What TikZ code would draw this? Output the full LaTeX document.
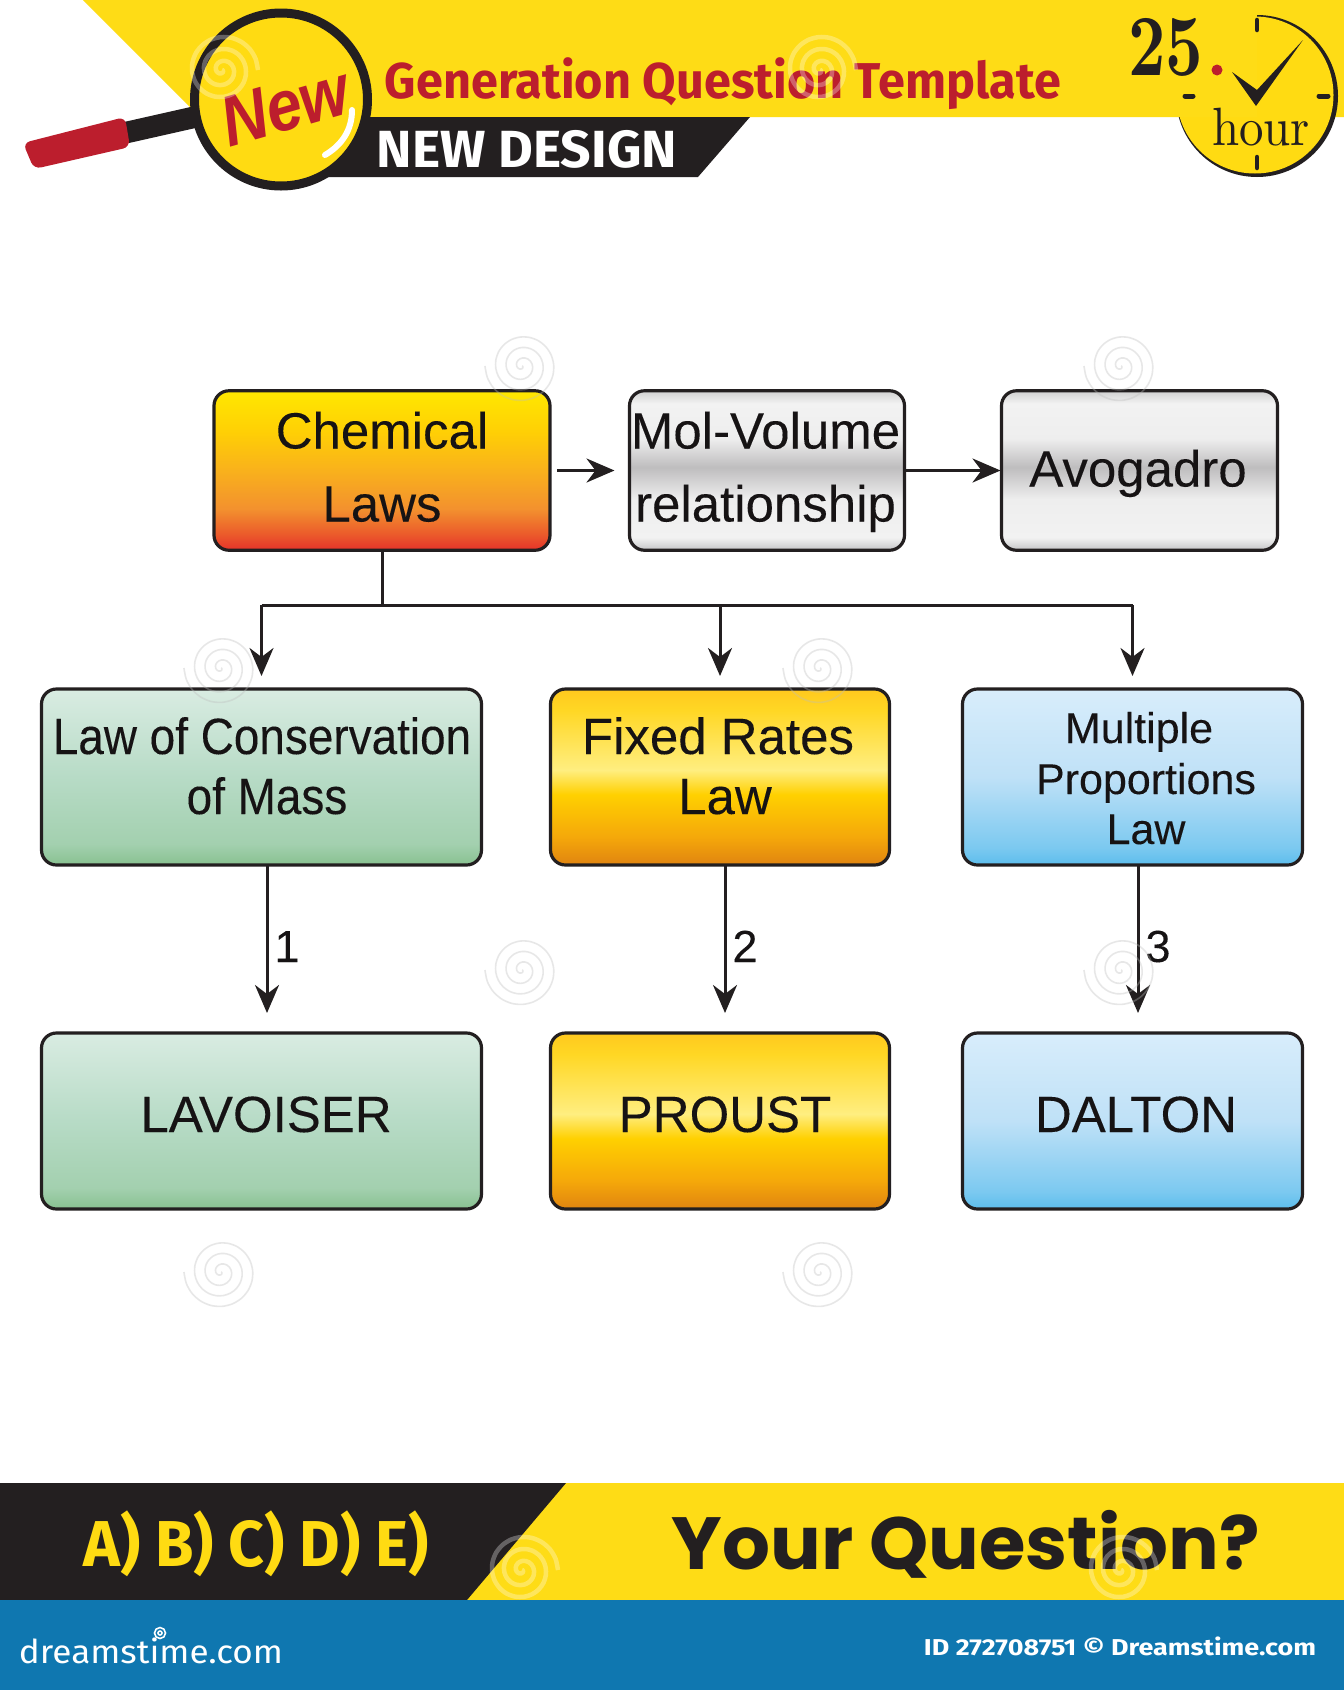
\documentclass[tikz,border=0pt]{standalone}
\usepackage{fontspec}
\usepackage{graphicx}
\usetikzlibrary{arrows.meta}
\newfontfamily\arial[FakeBold=0.15]{Liberation Sans}
\newfontfamily\arialplain{Liberation Sans}
\newfontfamily\arialnar[FakeStretch=0.9,FakeBold=0.15]{Liberation Sans}
\newfontfamily\fira{Fira Sans}
\newfontfamily\pop{Poppins}
\definecolor{bandy}{HTML}{FEDC16}
\definecolor{lensy}{HTML}{FFDB12}
\definecolor{inkb}{HTML}{231F20}
\definecolor{txtb}{HTML}{161314}
\definecolor{redh}{HTML}{BC1E2D}
\definecolor{bluef}{HTML}{0F77B0}
\definecolor{wm}{HTML}{BDBDBD}
\definecolor{ca}{HTML}{E5322A}\definecolor{cb}{HTML}{EB5A2B}\definecolor{cc}{HTML}{F3912E}\definecolor{cd}{HTML}{F9B11C}\definecolor{ce}{HTML}{FFCF05}\definecolor{cf}{HTML}{FFE800}
\definecolor{ga}{HTML}{C4C4C6}\definecolor{gb}{HTML}{F2F2F2}\definecolor{gc}{HTML}{EEEEEE}\definecolor{gd}{HTML}{BEBDBE}\definecolor{ge}{HTML}{EEEEEE}\definecolor{gf}{HTML}{F2F2F2}\definecolor{gg}{HTML}{D0D0D0}
\definecolor{va}{HTML}{88C190}\definecolor{vb}{HTML}{A3D0AF}\definecolor{vc}{HTML}{B7DBC6}\definecolor{vd}{HTML}{D9ECE2}
\definecolor{oa}{HTML}{E08410}\definecolor{ob}{HTML}{F5A80A}\definecolor{oc}{HTML}{FFD000}\definecolor{od}{HTML}{FFEE80}\definecolor{oe}{HTML}{FFD724}\definecolor{of}{HTML}{FFC81E}
\definecolor{ba}{HTML}{5CBDEC}\definecolor{bb}{HTML}{7CC9F0}\definecolor{bc}{HTML}{BFE1F7}\definecolor{bd}{HTML}{D8EDFB}
% shadings: the visible part of the path is 25bp (bottom) to 75bp (top)
\pgfdeclareverticalshading{chemgrad}{100bp}{color(0bp)=(ca);color(25bp)=(ca);color(30bp)=(cb);color(38bp)=(cc);color(50bp)=(cd);color(62bp)=(ce);color(75bp)=(cf);color(100bp)=(cf)}
\pgfdeclareverticalshading{greygrad}{100bp}{color(0bp)=(ga);color(25bp)=(ga);color(29bp)=(gb);color(41bp)=(gc);color(51bp)=(gd);color(60bp)=(ge);color(71bp)=(gf);color(75bp)=(gg);color(100bp)=(gg)}
\pgfdeclareverticalshading{greengrad}{100bp}{color(0bp)=(va);color(25bp)=(va);color(31bp)=(vb);color(50bp)=(vc);color(75bp)=(vd);color(100bp)=(vd)}
\pgfdeclareverticalshading{goldgrad}{100bp}{color(0bp)=(oa);color(25bp)=(oa);color(33bp)=(ob);color(45bp)=(oc);color(52bp)=(od);color(69bp)=(oe);color(75bp)=(of);color(100bp)=(of)}
\pgfdeclareverticalshading{bluegrad}{100bp}{color(0bp)=(ba);color(25bp)=(ba);color(30bp)=(bb);color(50bp)=(bc);color(75bp)=(bd);color(100bp)=(bd)}
% one line of a box text: x offset from the box centre, baseline height above it
\newcommand{\tl}[3]{\makebox[0pt][c]{\hspace*{\dimexpr #1pt*2\relax}\raisebox{#2pt}[0pt][0pt]{#3}}}
\newcommand{\fit}[3]{\resizebox*{#1pt}{#2pt}{#3}}
\tikzset{
  x=1pt,y=-1pt,
  flowbox/.style={draw=inkb,line width=3.2pt,rounded corners=15pt,shade,outer sep=0pt,inner sep=0pt,text=txtb,font=\arial\fontsize{51}{60}\selectfont},
  topbox/.style={flowbox,minimum width=#1,minimum height=159.5pt},
  lowbox/.style={flowbox,minimum width=#1,minimum height=176pt},
  conn/.style={draw=inkb,line width=3pt},
  arr/.style={conn,-{Stealth[length=28pt,width=24pt,inset=9pt]}},
  num/.style={anchor=base,text=txtb,inner sep=0pt,font=\arial\fontsize{45}{50}\selectfont},
  fitted/.style={inner sep=0pt,outer sep=0pt},
  swirlgrey/.style={draw=wm,line width=1.6pt,opacity=.35},
  swirlwhite/.style={draw=white,line width=4.5pt,opacity=.3}
}
\begin{document}
\begin{tikzpicture}
\useasboundingbox (0,0) rectangle (1344,1690);
\fill[white] (0,0) rectangle (1344,1690);
% top band
\fill[bandy] (83,0) -- (1344,0) -- (1344,117) -- (200,117) -- cycle;
\fill[inkb] (330,117) -- (750,117) -- (698,177) -- (326,177) -- cycle;
% magnifier
\fill[inkb] (124,122) -- (195,106) -- (200,127) -- (129,143) -- cycle;
\fill[redh,rounded corners=7pt] (23,143) -- (125,117) -- (130,147) -- (34,169) -- cycle;
\filldraw[fill=lensy,draw=inkb,line width=9pt] (281,99.5) circle[radius=86.5];
\draw[white,line width=6pt,line cap=round] (352,110) .. controls (352,130) and (342,145) .. (325,155);
\node[fitted,rotate=16,text=redh] (newword) at (285,106) {\fit{130}{50}{\arialplain\bfseries\itshape New}};
\node[fitted,text=redh] (gentitle) at (723,84) {\fit{676}{52}{\fira\bfseries Generation Question Template}};
\node[fitted,text=white] (newdesign) at (527,149) {\fit{300}{38}{\fira\bfseries NEW DESIGN}};
% clock
\begin{scope}
\clip (1257,0) rectangle (1344,190) (1170,117) rectangle (1257,190);
\fill[inkb] (1257,96) circle[radius=81];
\fill[lensy] (1255,95) circle[radius=78.5];
\end{scope}
\draw[inkb,line width=4.5pt,line cap=round] (1257,20) -- (1257,30) (1257,157) -- (1257,168);
\draw[inkb,line width=5pt,line cap=round] (1185,96) -- (1193,96) (1319,96) -- (1328,96);
\fill[inkb] (1232,72) -- (1257,90) -- (1303,40) -- (1256,106) -- cycle;
\node[fitted,text=inkb,anchor=base west] (clocknum) at (1128,75) {\fit{75}{58}{\bfseries 25}};
\node[fitted,fill=redh,circle,minimum size=11pt] (clockdot) at (1217,70) {};
\node[fitted,text=inkb] (clockhour) at (1261,127) {\fit{98}{38}{hour}};
% flow boxes
\node[topbox=336pt,shading=chemgrad] (chem) at (382,470.5) {\tl{0}{22}{Chemical}\tl{0}{-51}{Laws}};
\node[topbox=275pt,shading=greygrad] (mol) at (767,470.5) {\tl{-1.5}{22}{Mol-Volume}\tl{-1.5}{-51}{relationship}};
\node[topbox=276pt,shading=greygrad] (avo) at (1139.5,470.5) {\tl{-1.5}{-16}{Avogadro}};
\node[lowbox=440pt,shading=greengrad] (law) at (261.5,777) {\tl{0.5}{23}{\arialnar Law of Conservation}\tl{5.5}{-37}{\arialnar of Mass}};
\node[lowbox=339pt,shading=goldgrad] (fixed) at (720,777) {\tl{-2}{23}{Fixed Rates}\tl{5}{-37}{Law}};
\node[lowbox=340pt,shading=bluegrad,font=\arial\fontsize{43}{50}\selectfont] (multi) at (1132.5,777) {\tl{6.5}{34}{Multiple}\tl{13.5}{-17}{Proportions}\tl{13.5}{-67}{Law}};
\node[lowbox=440pt,shading=greengrad] (lav) at (261.5,1121) {\tl{4.5}{-11}{LAVOISER}};
\node[lowbox=339pt,shading=goldgrad] (proust) at (720,1121) {\tl{5}{-11}{PROUST}};
\node[lowbox=340pt,shading=bluegrad] (dalton) at (1132.5,1121) {\tl{3.5}{-11}{DALTON}};
% connectors
\draw[arr,shorten <=7pt,shorten >=15pt] (chem.east) -- (mol.west);
\draw[arr,shorten >=1pt] (mol.east) -- (avo.west);
\coordinate (bus) at (382,605);
\draw[conn] (chem.south) -- (bus);
\draw[conn] (law.north |- bus) -- (multi.north |- bus);
\draw[arr,shorten >=13pt] (law.north |- bus) -- (law.north);
\draw[arr,shorten >=13pt] (fixed.north |- bus) -- (fixed.north);
\draw[arr,shorten >=13pt] (multi.north |- bus) -- (multi.north);
\draw[arr,shorten >=20pt] ([xshift=5.5pt]law.south) -- ([xshift=5.5pt]lav.north);
\draw[arr,shorten >=20pt] ([xshift=5pt]fixed.south) -- ([xshift=5pt]proust.north);
\draw[arr,shorten >=20pt] ([xshift=5.5pt]multi.south) -- ([xshift=5.5pt]dalton.north);
\node[num] (n1) at (287,962) {1};
\node[num] (n2) at (745,962) {2};
\node[num] (n3) at (1158,962) {3};
% bottom band
\fill[bandy] (560,1483) -- (1344,1483) -- (1344,1600) -- (460,1600) -- cycle;
\fill[inkb] (0,1483) -- (566,1483) -- (467,1600) -- (0,1600) -- cycle;
\node[fitted,text=lensy] (choices) at (256,1544) {\fit{345}{66}{\fira\bfseries A) B) C) D) E)}};
\node[fitted,text=inkb] (question) at (966,1544) {\fit{588}{68}{\pop\bfseries Your Question?}};
% watermark swirls
\foreach \cx/\cy in {522/366,1121/366,221/668,820/668,522/970,1121/970,221/1272,820/1272}
  \draw[swirlgrey] plot[variable=\t,domain=0:1260,samples=70,smooth] ({\cx+\t/34*cos(\t)},{\cy+\t/34*sin(\t)});
\foreach \cx/\cy in {222/70,820/70,522/1570,1121/1570}
  \draw[swirlwhite] plot[variable=\t,domain=0:1080,samples=60,smooth] ({\cx+\t/30*cos(\t)},{\cy+\t/30*sin(\t)});
% footer
\fill[bluef] (0,1600) rectangle (1344,1690);
\node[fitted,text=white] (dsname) at (151,1651) {\fit{264}{26}{\fira dreamstime.com}};
\draw[white,line width=1.6pt] (160,1633) circle[radius=5.5] (160,1633) circle[radius=2];
\node[fitted,text=white] (dsid) at (1120,1646) {\fit{392}{19}{\fira\bfseries ID 272708751 © Dreamstime.com}};
\end{tikzpicture}
\end{document}
